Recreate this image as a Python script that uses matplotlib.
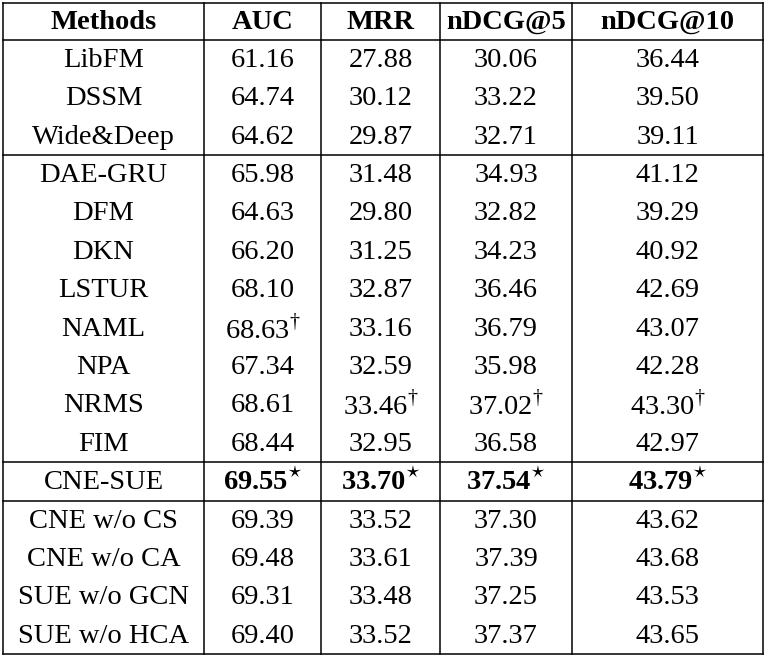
import matplotlib
matplotlib.use("Agg")
import matplotlib.pyplot as plt

plt.rcParams['font.family'] = ['Liberation Serif', 'DejaVu Serif']
plt.rcParams['mathtext.fontset'] = 'custom'
plt.rcParams['mathtext.rm'] = 'Liberation Serif'
plt.rcParams['mathtext.bf'] = 'Liberation Serif:bold'

headers = ["Methods", "AUC", "MRR", "nDCG@5", "nDCG@10"]
methods = ["LibFM", "DSSM", "Wide&Deep", "DAE-GRU", "DFM", "DKN", "LSTUR",
           "NAML", "NPA", "NRMS", "FIM", "CNE-SUE", "CNE w/o CS",
           "CNE w/o CA", "SUE w/o GCN", "SUE w/o HCA"]
auc = ["61.16", "64.74", "64.62", "65.98", "64.63", "66.20", "68.10",
       "68.63$^{\\dagger}$", "67.34", "68.61", "68.44", "69.55$^{\\star}$",
       "69.39", "69.48", "69.31", "69.40"]
mrr = ["27.88", "30.12", "29.87", "31.48", "29.80", "31.25", "32.87", "33.16",
       "32.59", "33.46$^{\\dagger}$", "32.95", "33.70$^{\\star}$",
       "33.52", "33.61", "33.48", "33.52"]
ndcg5 = ["30.06", "33.22", "32.71", "34.93", "32.82", "34.23", "36.46",
         "36.79", "35.98", "37.02$^{\\dagger}$", "36.58", "37.54$^{\\star}$",
         "37.30", "37.39", "37.25", "37.37"]
ndcg10 = ["36.44", "39.50", "39.11", "41.12", "39.29", "40.92", "42.69",
          "43.07", "42.28", "43.30$^{\\dagger}$", "42.97", "43.79$^{\\star}$",
          "43.62", "43.68", "43.53", "43.65"]
bold_row = 11
group_breaks = [3, 11, 12]

W, H = 767, 658
fig = plt.figure(figsize=(W / 100, H / 100), dpi=100)
ax = fig.add_axes([0, 0, 1, 1])
ax.set_xlim(0, W)
ax.set_ylim(H, 0)
ax.axis("off")

col_edges = [3, 204, 321, 440, 572, 763]
top, head_bot, row_h = 3, 40, 38.4
n = len(methods)
bottom = head_bot + n * row_h
centers = [(col_edges[i] + col_edges[i + 1]) / 2 for i in range(5)]
fs = 20.5
lw = 1.1

for x in col_edges:
    ax.plot([x, x], [top, bottom], color="black", lw=lw)
for y in [top, head_bot, bottom] + [head_bot + b * row_h for b in group_breaks]:
    ax.plot([col_edges[0], col_edges[-1]], [y, y], color="black", lw=lw)

for c, h in zip(centers, headers):
    ax.text(c, (top + head_bot) / 2 + 1, h, ha="center", va="center",
            fontsize=fs, fontweight="bold")

cols = [methods, auc, mrr, ndcg5, ndcg10]
for i in range(n):
    y = head_bot + (i + 0.5) * row_h + 1
    for j, col in enumerate(cols):
        wt = "bold" if (i == bold_row and j > 0) else "normal"
        ax.text(centers[j], y, col[i], ha="center", va="center",
                fontsize=fs, fontweight=wt)

fig.savefig("out.png", dpi=100)
